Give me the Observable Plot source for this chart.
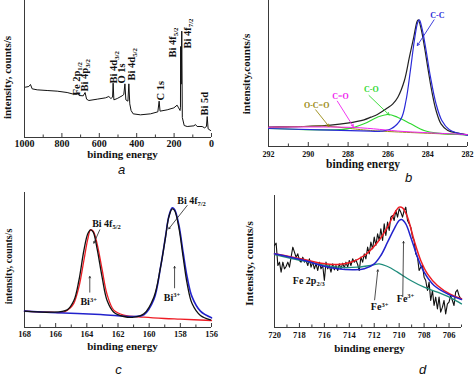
<!DOCTYPE html>
<html><head><meta charset="utf-8">
<script src="https://cdn.jsdelivr.net/npm/d3@7"></script>
<script src="https://cdn.jsdelivr.net/npm/@observablehq/plot@0.6"></script>
<style>
html,body{margin:0;padding:0;background:#fff;}
#chart{position:relative;width:474px;height:376px;overflow:hidden;background:#fff;}
#chart svg{position:absolute;background:transparent;}
</style></head><body><div id="chart"></div>
<script>
// ---------- panel a: survey ----------
const surveyBE = [995,977,968,959,932,879,825,772,745,722,713,708,686,676,668,656,611,567,549,538,529,526,522,504,478,469,463,458,447,442,437,430,419,380,326,287,280,275,237,201,184,176,168,166,165,162,159,156,146,130,94,86,77,50,37,27,23,18,5];
const surveyI = [151,153,159,146,143,141,139,135,131,130,135,126,125,135,115,111,115,119,123,117,121,163,113,117,125,129,161,113,109,161,101,81,71,68,71,77,109,79,83,89,97,89,81,91,273,160,319,60,36,33,35,39,33,33,29,33,63,26,21];
const surveyLabels = ["Fe 2p_1/2","Bi 4p_3/2","Bi 4d_3/2","O 1s","Bi 4d_5/2","C 1s","Bi 4f_5/2","Bi 4f_7/2","Bi 5d"];
const surveyLabelBE = [722,679,524,481,428,273,209,128,37];
const surveyLabelI = [126,138,162,162,171,111,240,267,66];
const aMajor = [1000,800,600,400,200,0];
const aMinor = [900,700,500,300,100];

// ---------- panel b: C 1s ----------
const c1sBE = [292.00,291.10,290.22,289.40,288.88,288.04,287.20,286.85,286.53,286.01,285.75,285.50,285.17,284.92,284.70,284.53,284.47,284.33,284.16,284.00,283.80,283.58,283.33,282.99,282.49,282.00];
const c1sRaw = [58,59,60,62,64,70,80,88,96,116,128,148,198,268,328,376,380,353,298,238,168,108,68,48,40,35];
const ccBE = [292.00,286.87,286.35,285.84,285.34,285.09,284.87,284.67,284.50,284.42,284.28,284.08,283.86,283.58,283.29,282.91,282.49,282.00];
const ccI = [54,46,46,53,83,138,228,318,373,380,353,288,208,128,78,50,40,34];
const coBE = [292.00,289.38,288.04,287.20,286.53,285.99,285.52,284.85,284.18,283.51,282.00];
const coI = [54,50,53,68,88,96,88,68,48,40,35];
const cdoBE = [292.00,287.70,285.19,282.00];
const cdoI = [58,57,45,36];
const ocoBE = [292.00,290.22,289.05,288.04,286.87,282.00];
const ocoI = [57,60,61,55,48,35];
const c1sLabels = ["C-C","C-O","C=O","O-C=O"];
const c1sColors = ["#2a2ad8","#2fd82f","#ee22ee","#9a8a12"];
const c1sLabelBE = [283.51,286.83,288.38,289.58];
const c1sLabelI = [393,170,150,124];
const c1sArrowFromBE = [283.68,286.95,288.54,289.63];
const c1sArrowFromI = [380,153,136,110];
const c1sArrowToBE = [284.52,285.94,287.74,288.96];
const c1sArrowToI = [303,95,60,60];
const bMajor = [292,290,288,286,284,282];
const bMinor = [291,289,287,285,283];

// ---------- panel c: Bi 4f ----------
const bi4fBE = [168.00,166.33,165.26,164.83,164.51,164.19,163.94,163.76,163.59,163.34,163.02,162.70,162.27,161.63,160.98,160.34,159.70,159.27,158.95,158.74,158.52,158.37,158.10,157.82,157.56,157.24,156.71,156.06];
const bi4fRaw = [49,46,53,81,141,231,281,293,286,236,151,81,46,33,31,41,91,181,271,331,356,351,301,211,131,71,36,23];
const bi52BE = [168.00,166.33,165.48,165.05,164.83,164.51,164.19,163.94,163.76,163.59,163.34,163.02,162.70,162.27,161.63,160.34,159.02,158.01,156.00];
const bi52I = [49,46,46,59,73,121,201,265,293,289,251,174,99,52,37,31,27,25,21];
const bi72BE = [168.00,166.33,163.12,160.98,160.34,159.70,159.27,158.95,158.74,158.52,158.37,158.10,157.82,157.56,157.24,156.71,156.00];
const bi72I = [49,45,39,33,38,84,181,273,333,359,354,309,225,151,91,49,29];
const biLabels = ["Bi 4f_5/2","Bi 4f_7/2","Bi^3+","Bi^3+"];
const biLabelBE = [163.66,158.20,164.41,159.06];
const biLabelI = [311,381,76,89];
const biArrowFromBE = [163.17,157.56,163.81,158.37];
const biArrowFromI = [293,366,106,119];
const biArrowToBE = [163.55,158.74,163.81,158.37];
const biArrowToI = [253,296,153,183];
const cMajor = [168,166,164,162,160,158,156];
const cMinor = [167,165,163,161,159,157];

// ---------- panel d: Fe 2p ----------
const feBE = [720.00,719.87,719.73,719.60,719.47,719.33,719.20,719.07,718.93,718.80,718.67,718.53,718.40,718.27,718.13,
718.00,717.87,717.73,717.60,717.47,717.33,717.20,717.07,716.93,716.80,716.67,716.53,716.40,716.27,716.13,
716.00,715.87,715.73,715.60,715.47,715.33,715.20,715.07,714.93,714.80,714.67,714.53,714.40,714.27,714.13,
714.00,713.87,713.73,713.60,713.47,713.33,713.20,713.07,712.93,712.80,712.67,712.53,712.40,712.27,712.13,
712.00,711.87,711.73,711.60,711.47,711.33,711.20,711.07,710.93,710.80,710.67,710.53,710.40,710.27,710.13,
710.00,709.87,709.73,709.60,709.47,709.33,709.20,709.07,708.93,708.80,708.67,708.53,708.40,708.27,708.13,
708.00,707.87,707.73,707.60,707.47,707.33,707.20,707.07,706.93,706.80,706.67,706.53,706.40,706.27,706.13,
706.00,705.87,705.73,705.60,705.47,705.33,705.20,705.07];
const feRaw = [246,253,186,196,166,196,176,183,196,181,211,241,226,211,221,
201,196,211,196,201,186,206,181,196,176,191,171,196,176,186,
141,196,176,186,166,191,173,186,171,191,176,193,179,196,181,
201,186,206,196,203,189,171,211,196,221,206,241,221,256,236,
271,246,281,261,296,261,311,276,316,291,331,336,321,351,331,
356,346,331,351,361,321,311,301,271,261,221,211,171,181,186,
151,141,111,136,81,111,66,91,56,91,46,61,81,41,71,
76,96,81,66,106,113,96,86];
const feEnvBE = [720.00,717.60,716.27,714.93,713.87,712.80,711.73,710.93,710.40,710.00,709.73,709.33,708.80,708.27,707.73,706.93,705.87,705.00];
const feEnvI = [221,204,193,189,196,216,256,301,341,361,359,331,261,201,161,126,99,86];
const feMainBE = [720.00,717.60,716.27,714.93,713.60,712.80,712.00,711.47,710.93,710.40,710.00,709.81,709.47,709.07,708.53,708.00,707.20,706.13,705.00];
const feMainI = [221,201,186,176,173,176,191,216,256,296,321,324,311,271,211,166,126,101,84];
const feSatBE = [720.00,717.60,714.93,713.33,712.27,711.60,710.93,710.13,709.07,708.00,706.93,705.87,705.00];
const feSatI = [219,199,181,181,186,191,183,166,141,121,106,89,71];
const feLabels = ["Fe 2p_2/3","Fe^3+","Fe^3+"];
const feLabelBE = [718.53,712.27,710.19];
const feLabelI = [141,61,86];
const feArrowFromBE = [711.97,709.71];
const feArrowFromI = [83,93];
const feArrowToBE = [711.71,709.65];
const feArrowToI = [173,258];
const dMajor = [720,718,716,714,712,710,708,706];
const dMinor = [719,717,715,713,711,709,707,705];

// ---------- helpers ----------
const SERIF = "'Liberation Serif','Times New Roman',serif";
const SANS = "'Liberation Sans',Arial,sans-serif";
const zip = (xs, ys) => xs.map((x, i) => ({x, y: ys[i]}));
const labelRows = (ts, xs, ys, extra = []) => ts.map((t, i) => ({t, x: xs[i], y: ys[i], c: extra[i]}));
const arrowRows = (x1, y1, x2, y2, extra = []) => x1.map((_, i) => ({x1: x1[i], y1: y1[i], x2: x2[i], y2: y2[i], c: extra[i]}));

function richText(svg) {
  svg.querySelectorAll("text").forEach(t => {
    if (t.children.length) return;
    const s = t.textContent;
    const m = s.match(/^(.*?)([_^])(.+)$/);
    if (!m) return;
    t.textContent = m[1];
    const ts = document.createElementNS("http://www.w3.org/2000/svg", "tspan");
    ts.setAttribute("font-size", "65%");
    ts.setAttribute("dy", m[2] === "_" ? "0.35em" : "-0.55em");
    ts.textContent = m[3];
    t.appendChild(ts);
  });
}

function panel(cfg) {
  const fh = cfg.height - cfg.mt - cfg.mb;
  const axisColor = "#3a3a3a";
  const marks = [
    Plot.ruleY([0], {stroke: axisColor, strokeWidth: 1}),
    Plot.ruleX([cfg.xDomain[0]], {stroke: axisColor, strokeWidth: 1}),
    Plot.ruleX(cfg.major, {x: d => d, insetTop: fh - 4, stroke: axisColor}),
    Plot.ruleX(cfg.minor, {x: d => d, insetTop: fh - 2.5, stroke: axisColor}),
    Plot.text(cfg.major, {x: d => d, text: d => String(d), frameAnchor: "bottom", dy: cfg.tickDy,
      fontSize: cfg.tickFs, fontWeight: "bold", fontFamily: SERIF, fill: "#111"}),
    Plot.text([cfg.xlabel], {text: d => d, frameAnchor: "bottom", dx: cfg.xlDx, dy: cfg.xlDy,
      fontSize: cfg.xlFs, fontWeight: "bold", fontFamily: SERIF, fill: "#111"}),
    Plot.text([cfg.ylabel], {text: d => d, frameAnchor: "left", y: () => cfg.ylY, rotate: -90, dx: cfg.ylDx,
      textAnchor: "middle", fontSize: cfg.ylFs, fontWeight: "bold", fontFamily: SERIF, fill: "#111"}),
    Plot.text([cfg.letter], {text: d => d, frameAnchor: "bottom", dx: cfg.letDx, dy: cfg.letDy,
      fontSize: 13, fontStyle: "italic", fontFamily: SANS, fill: "#111"}),
    ...cfg.marks
  ];
  const svg = Plot.plot({
    width: cfg.width, height: cfg.height,
    marginTop: cfg.mt, marginBottom: cfg.mb, marginLeft: cfg.ml, marginRight: cfg.mr,
    x: {domain: cfg.xDomain, axis: null},
    y: {domain: [0, cfg.yMax], axis: null},
    style: {background: "transparent", overflow: "visible"},
    marks
  });
  svg.style.left = cfg.left + "px";
  svg.style.top = cfg.top + "px";
  richText(svg);
  document.getElementById("chart").appendChild(svg);
}

// panel a
panel({
  left: 0, top: 0, width: 237, height: 190, mt: 0, mb: 53, ml: 24, mr: 26,
  xDomain: [1000, 0], yMax: 411, major: aMajor, minor: aMinor, tickFs: 10, tickDy: 9,
  xlabel: "binding energy", xlFs: 11, xlDx: 4.5, xlDy: 20,
  ylabel: "intensity, counts/s", ylFs: 11, ylY: 180, ylDx: -17.5,
  letter: "a", letDx: 3.5, letDy: 36,
  marks: [
    Plot.line(zip(surveyBE, surveyI), {x: "x", y: "y", stroke: "#111", strokeWidth: 1}),
    Plot.text(labelRows(surveyLabels, surveyLabelBE, surveyLabelI), {x: "x", y: "y", text: "t", rotate: -90,
      textAnchor: "start", fontSize: 10.5, fontWeight: "bold", fontFamily: SERIF, fill: "#111"})
  ]
});

// panel b
panel({
  left: 237, top: 0, width: 237, height: 190, mt: 0, mb: 44, ml: 31, mr: 7,
  xDomain: [292, 282], yMax: 438, major: bMajor, minor: bMinor, tickFs: 8, tickDy: 10,
  xlabel: "binding energy", xlFs: 11.5, xlDx: -5, xlDy: 21.5,
  ylabel: "intensity,counts/s", ylFs: 11, ylY: 217.5, ylDx: -22,
  letter: "b", letDx: 40.5, letDy: 35,
  marks: [
    Plot.line(zip(c1sBE, c1sRaw), {x: "x", y: "y", stroke: "#222", strokeWidth: 1.2, curve: "catmull-rom"}),
    Plot.line(zip(ocoBE, ocoI), {x: "x", y: "y", stroke: c1sColors[3], strokeWidth: 1, curve: "catmull-rom"}),
    Plot.line(zip(coBE, coI), {x: "x", y: "y", stroke: c1sColors[1], strokeWidth: 1.1, curve: "catmull-rom"}),
    Plot.line(zip(ccBE, ccI), {x: "x", y: "y", stroke: c1sColors[0], strokeWidth: 1.2, curve: "catmull-rom"}),
    Plot.line(zip(cdoBE, cdoI), {x: "x", y: "y", stroke: c1sColors[2], strokeWidth: 1, curve: "catmull-rom"}),
    Plot.arrow(arrowRows(c1sArrowFromBE, c1sArrowFromI, c1sArrowToBE, c1sArrowToI, c1sColors),
      {x1: "x1", y1: "y1", x2: "x2", y2: "y2", stroke: "c", strokeWidth: 0.9, headLength: 4}),
    Plot.text(labelRows(c1sLabels, c1sLabelBE, c1sLabelI, c1sColors), {x: "x", y: "y", text: "t", fill: "c",
      fontSize: 8, fontWeight: "bold", fontFamily: SERIF})
  ]
});

// panel c
panel({
  left: 0, top: 190, width: 237, height: 186, mt: 2, mb: 49, ml: 24, mr: 26,
  xDomain: [168, 156], yMax: 405, major: cMajor, minor: cMinor, tickFs: 8.5, tickDy: 9,
  xlabel: "binding energy", xlFs: 11, xlDx: 4.5, xlDy: 22,
  ylabel: "intensity, counts/s", ylFs: 10, ylY: 183, ylDx: -16,
  letter: "c", letDx: 0.5, letDy: 46,
  marks: [
    Plot.line(zip(bi52BE, bi52I), {x: "x", y: "y", stroke: "#ee1c24", strokeWidth: 1.3, curve: "catmull-rom"}),
    Plot.line(zip(bi72BE, bi72I), {x: "x", y: "y", stroke: "#2222cc", strokeWidth: 1.6, curve: "catmull-rom"}),
    Plot.line(zip(bi4fBE, bi4fRaw), {x: "x", y: "y", stroke: "#111", strokeWidth: 1.3, curve: "catmull-rom"}),
    Plot.arrow(arrowRows(biArrowFromBE, biArrowFromI, biArrowToBE, biArrowToI),
      {x1: "x1", y1: "y1", x2: "x2", y2: "y2", stroke: "#222", strokeWidth: 0.8, headLength: 3}),
    Plot.text(labelRows(biLabels, biLabelBE, biLabelI), {x: "x", y: "y", text: "t", textAnchor: "start",
      fontSize: 10, fontWeight: "bold", fontFamily: SERIF, fill: "#111"})
  ]
});

// panel d
panel({
  left: 237, top: 190, width: 237, height: 186, mt: 5, mb: 49, ml: 37, mr: 13,
  xDomain: [720, 705], yMax: 396, major: dMajor, minor: dMinor, tickFs: 8.5, tickDy: 10,
  xlabel: "binding energy", xlFs: 11, xlDx: 1.5, xlDy: 24,
  ylabel: "Intensity, counts/s", ylFs: 11, ylY: 192, ylDx: -25,
  letter: "d", letDx: 54.5, letDy: 46,
  marks: [
    Plot.line(zip(feBE, feRaw), {x: "x", y: "y", stroke: "#111", strokeWidth: 1.1}),
    Plot.line(zip(feSatBE, feSatI), {x: "x", y: "y", stroke: "#1f8c7c", strokeWidth: 1.3, curve: "catmull-rom"}),
    Plot.line(zip(feEnvBE, feEnvI), {x: "x", y: "y", stroke: "#ee1c24", strokeWidth: 1.5, curve: "catmull-rom"}),
    Plot.line(zip(feMainBE, feMainI), {x: "x", y: "y", stroke: "#2222cc", strokeWidth: 1.5, curve: "catmull-rom"}),
    Plot.arrow(arrowRows(feArrowFromBE, feArrowFromI, feArrowToBE, feArrowToI),
      {x1: "x1", y1: "y1", x2: "x2", y2: "y2", stroke: "#222", strokeWidth: 0.8, headLength: 3}),
    Plot.text(labelRows(feLabels, feLabelBE, feLabelI), {x: "x", y: "y", text: "t", textAnchor: "start",
      fontSize: 10, fontWeight: "bold", fontFamily: SERIF, fill: "#111"})
  ]
});
</script>
</body></html>
